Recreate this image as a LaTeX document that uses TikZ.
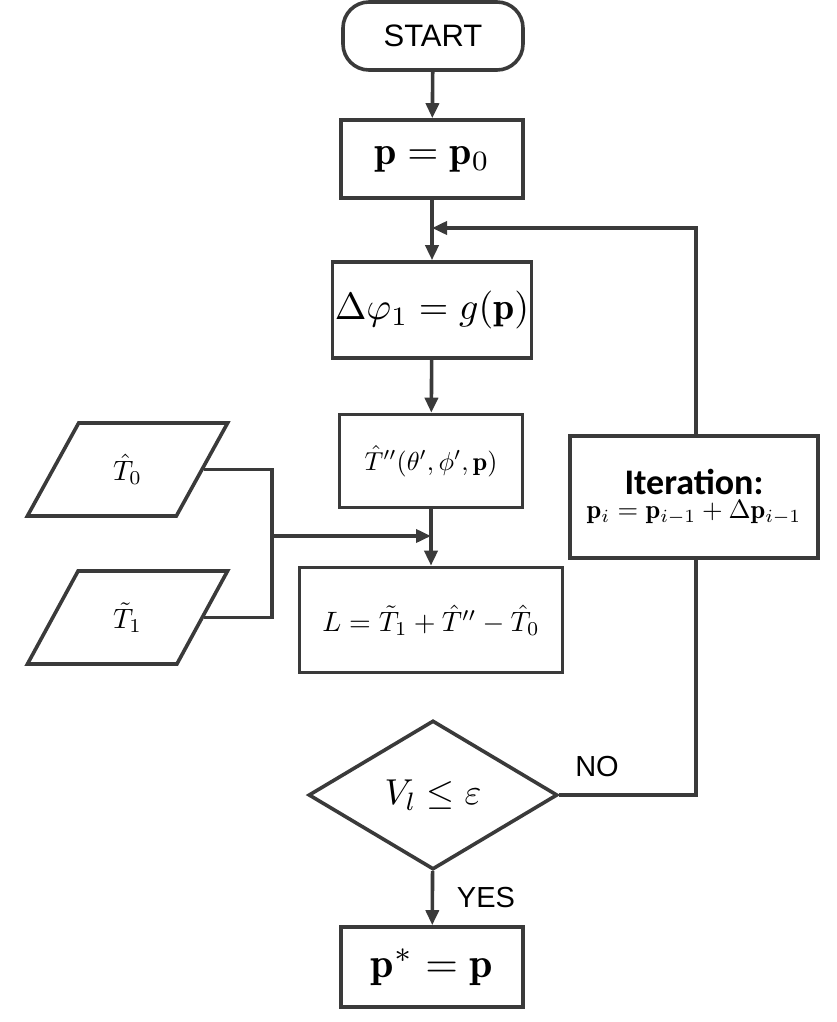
\documentclass[tikz,border=0pt]{standalone}
\usepackage{fontspec}
\usepackage{amsmath,graphicx}
\setsansfont{Liberation Sans}
\newfontfamily\calib{Carlito}
\usetikzlibrary{shapes.geometric,arrows.meta}
\newcommand\sx[2]{\scalebox{#1}{#2}}
\definecolor{lc}{HTML}{3A3A3A}
\begin{document}
\begin{tikzpicture}[x=1pt,y=-1pt,
  ln/.style={draw=lc,line width=3.6pt},
  arr/.style={ln,-{Triangle[length=15pt,width=13pt]}},
  box/.style={ln,fill=white,inner sep=0pt},
  lbl/.style={font=\sffamily\fontsize{29}{31}\selectfont,text=black}]
\useasboundingbox (0,0) rectangle (837,1022);
\node[box,rounded corners=26pt,minimum width=180pt,minimum height=68pt,font=\sffamily\fontsize{31}{33}\selectfont] (start) at (433,36) {START};
\node[box,minimum width=182pt,minimum height=78pt] (p0) at (432,159) {\sx{4}{$\mathbf{p}=\mathbf{p}_0$}};
\node[box,minimum width=199pt,minimum height=96pt] (g) at (432,310) {\sx{3.8}{$\Delta\varphi_1=g(\mathbf{p})$}};
\node[box,minimum width=183pt,minimum height=93pt] (t) at (431,461) {\sx{2.6}{$\hat T''(\theta',\phi',\mathbf{p})$}};
\node[box,minimum width=263pt,minimum height=105pt] (L) at (431,620) {\sx{2.8}{$L=\tilde T_1+\hat T''-\hat T_0$}};
\node[box,diamond,aspect=1.68,minimum width=249pt,minimum height=149pt] (d) at (433,795) {\sx{3.6}{$V_l\le\varepsilon$}};
\node[box,minimum width=182pt,minimum height=80pt] (ps) at (432,967) {\sx{4.2}{$\mathbf{p}^*=\mathbf{p}$}};
\node[box,minimum width=248pt,minimum height=122pt,align=center] (it) at (694,497) {{\calib\bfseries\fontsize{36}{38}\selectfont Iteration:}\\[4pt]\sx{2.65}{$\mathbf{p}_i=\mathbf{p}_{i-1}+\Delta\mathbf{p}_{i-1}$}};
\tikzset{para/.style={box,trapezium,trapezium left angle=63.7,trapezium right angle=116.3,minimum width=201pt,minimum height=93pt,trapezium stretches=true}}
\node[para] (a) at (127.5,469.5) {\sx{2.8}{$\hat T_0$}};
\node[para] (b) at (127.5,617.5) {\sx{2.8}{$\tilde T_1$}};
\draw[arr] (start) -- (p0);
\draw[arr] (p0) -- (g);
\draw[arr] (g) -- (t);
\draw[arr] (t) -- (L);
\coordinate (j) at (272,536);
\draw[ln] (a.east) -| (j) |- (b.east);
\draw[arr] (j) -- (j -| t.south);
\draw[arr] (d) -- (ps);
\node[lbl] (yes) at (486,898) {YES};
\node[lbl] (no) at (597,767) {NO};
\coordinate (top) at (696,228);
\draw[ln] (d.east) -| (it.south -| top);
\draw[arr] (it.north -| top) |- (top -| p0.south);
\end{tikzpicture}
\end{document}
